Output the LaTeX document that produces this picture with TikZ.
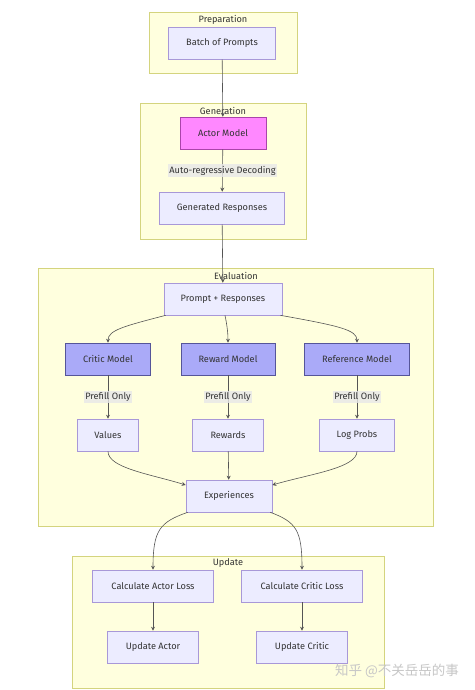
\documentclass[tikz,border=0pt]{standalone}
\usepackage{fontspec}
\setmainfont{Fira Sans}
\newfontfamily\cjk{Noto Sans CJK SC}
\usetikzlibrary{arrows.meta,calc}
\definecolor{clfill}{HTML}{FFFFDE}
\definecolor{cldraw}{HTML}{D4D47E}
\definecolor{ndfill}{HTML}{ECECFF}
\definecolor{nddraw}{HTML}{A898D8}
\definecolor{mdfill}{HTML}{AAAAF8}
\definecolor{mddraw}{HTML}{555599}
\definecolor{acfill}{HTML}{FF88FF}
\definecolor{acdraw}{HTML}{AA44AA}
\definecolor{txt}{HTML}{333333}
\definecolor{edge}{HTML}{555555}
\definecolor{lblbg}{HTML}{E8E8E8}
\tikzset{
  cluster/.style={fill=clfill,draw=cldraw,line width=0.7pt},
  cltitle/.style={text=txt,font=\fontsize{9.2}{11}\selectfont,inner sep=0pt},
  box/.style={rectangle,fill=ndfill,draw=nddraw,line width=0.6pt,text=txt,
    font=\fontsize{9.2}{11}\selectfont,minimum height=32pt,inner sep=0pt},
  model/.style={box,fill=mdfill,draw=mddraw},
  actor/.style={box,fill=acfill,draw=acdraw},
  conn/.style={draw=edge,line width=0.6pt,-{Stealth[length=4pt,width=4pt]}},
  elabel/.style={fill=lblbg,fill opacity=0.8,text opacity=1,text=txt,
    font=\fontsize{9.2}{11}\selectfont,inner sep=1.5pt}
}
\begin{document}
\begin{tikzpicture}[x=1pt,y=-1pt]
\useasboundingbox[fill=white] (0,0) rectangle (474,690);
% clusters
\draw[cluster] (149,12) rectangle (297,73);
\node[cltitle] (tprep) at (223,19.5) {Preparation};
\draw[cluster] (140,103) rectangle (306,239);
\node[cltitle] (tgen) at (223,110.5) {Generation};
\draw[cluster] (38,268) rectangle (433,526);
\node[cltitle] (teval) at (236,275.5) {Evaluation};
\draw[cluster] (72,556) rectangle (384,688);
\node[cltitle] (tupd) at (228,563.5) {Update};
% nodes
\node[box,minimum width=107pt] (bp) at (222,43) {Batch of Prompts};
\node[actor,minimum width=86pt] (am) at (223,133) {Actor Model};
\node[box,minimum width=125pt] (gr) at (222,208) {Generated Responses};
\node[box,minimum width=118pt] (pr) at (223,299) {Prompt + Responses};
\node[model,minimum width=85pt] (cm) at (108,359) {Critic Model};
\node[model,minimum width=94pt] (rm) at (228,359) {Reward Model};
\node[model,minimum width=105pt] (fm) at (357,359) {Reference Model};
\node[box,minimum width=61pt] (va) at (108,435) {Values};
\node[box,minimum width=71pt] (rw) at (228,435) {Rewards};
\node[box,minimum width=75pt] (lp) at (357,435) {Log Probs};
\node[box,minimum width=86pt] (ex) at (229,496) {Experiences};
\node[box,minimum width=121pt] (ca) at (153,586) {Calculate Actor Loss};
\node[box,minimum width=121pt] (cc) at (302,586) {Calculate Critic Loss};
\node[box,minimum width=91pt] (ua) at (153,647) {Update Actor};
\node[box,minimum width=91pt] (uc) at (302,647) {Update Critic};
% edges
\draw[conn] (bp) -- (am);
\draw[conn] (am) -- node[elabel] (l1) {Auto-regressive Decoding} (gr);
\draw[conn] (gr) -- (pr);
\draw[conn] ($(pr.south west)+(2,0)$) .. controls (125,326) and (108,330) .. (cm.north);
\draw[conn] ($(pr.south)+(2,0)$) .. controls (227,325) and (228,333) .. (rm.north);
\draw[conn] ($(pr.south east)+(-2,0)$) .. controls (340,326) and (357,330) .. (fm.north);
\draw[conn] (cm) -- node[elabel] (l2) {Prefill Only} (va);
\draw[conn] (rm) -- node[elabel] (l3) {Prefill Only} (rw);
\draw[conn] (fm) -- node[elabel] (l4) {Prefill Only} (lp);
\draw[conn] (va.south) .. controls (108,468) and (150,474) .. ($(ex.west)+(0,-11)$);
\draw[conn] (rw) -- (ex);
\draw[conn] (lp.south) .. controls (357,468) and (310,474) .. ($(ex.east)+(0,-11)$);
\draw[conn] ($(ex.south west)+(2,0)$) .. controls (160,522) and (153,530) .. (ca.north);
\draw[conn] ($(ex.south east)+(-2,0)$) .. controls (296,522) and (302,530) .. (cc.north);
\draw[conn] (ca) -- (ua);
\draw[conn] (cc) -- (uc);
% watermark
\node[text=black!22,font=\cjk\fontsize{13.5}{15}\selectfont,inner sep=0pt] (wm) at (397,671) {知乎 @不关岳岳的事};
\end{tikzpicture}
\end{document}
